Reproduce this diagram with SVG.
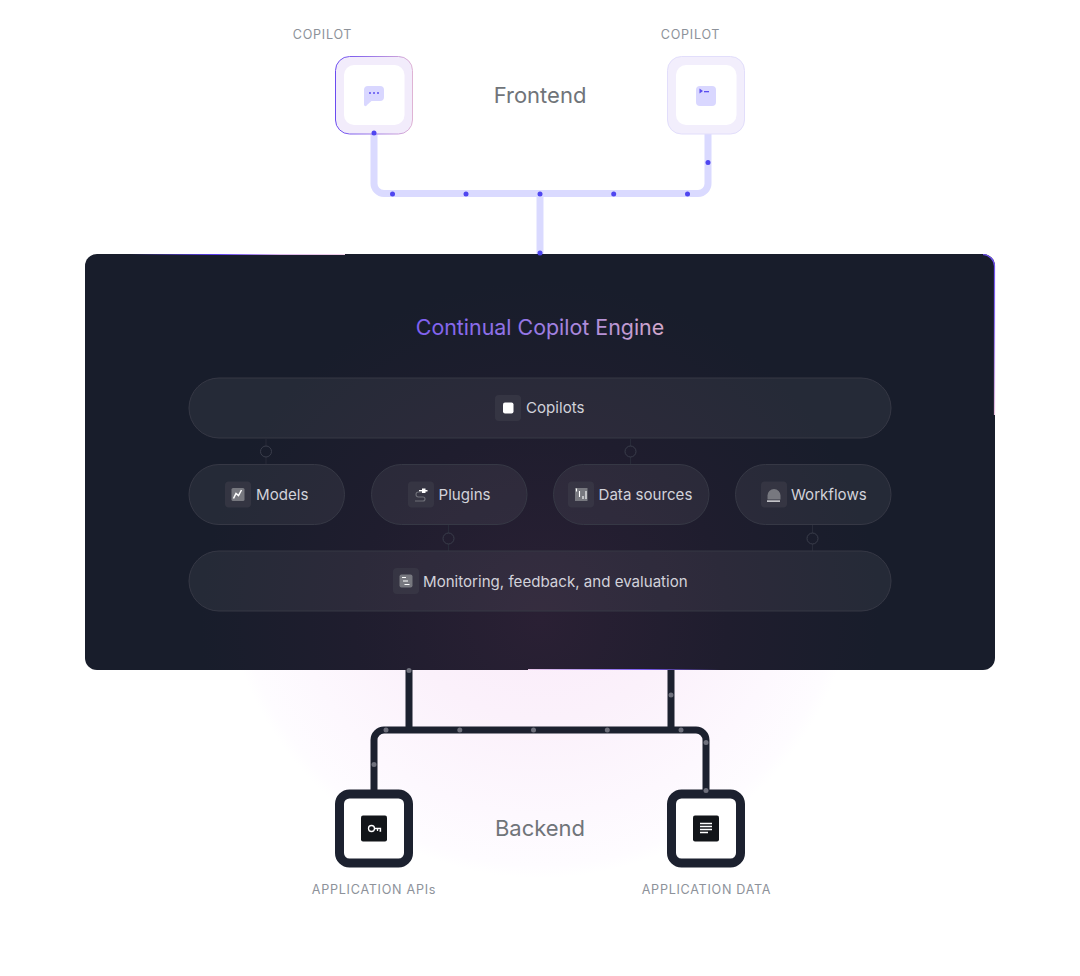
<svg xmlns="http://www.w3.org/2000/svg" width="1080" height="976" viewBox="0 0 1080 976">
<style>
text{font-family:Inter,"Liberation Sans",sans-serif}
.lab{font-size:12.6px;letter-spacing:.72px;fill:#8d929a;text-anchor:middle}
.big{font-size:22px;fill:#707479;text-anchor:middle}
.pt{font-size:15.1px;fill:#d2d2da}
.pill{fill:#fff;fill-opacity:.06;stroke:#363845;stroke-width:1}
.ib{fill:#3a3b47;fill-opacity:.7}
.ring{fill:none;stroke:#3a3d4b;stroke-width:1}
.tick{stroke:#282b39;stroke-width:1}
.top{fill:none;stroke:#dadaff;stroke-width:7}
.bot{fill:none;stroke:#1c212f;stroke-width:7}
.d1{fill:#4f46f0}
.d2{fill:#6e707c}
</style>
<defs>
<radialGradient id="glow" gradientUnits="userSpaceOnUse" cx="540" cy="560" r="318">
<stop offset="0" stop-color="#fae9f9"/><stop offset=".5" stop-color="#fbf1fb"/><stop offset=".8" stop-color="#fdf8fe"/><stop offset=".96" stop-color="#fefcff"/><stop offset="1" stop-color="#fff"/>
</radialGradient>
<radialGradient id="inner" gradientUnits="userSpaceOnUse" cx="540" cy="620" r="340">
<stop offset="0" stop-color="#2a2034"/><stop offset=".55" stop-color="#1f1d2e"/><stop offset="1" stop-color="#181d2b"/>
</radialGradient>
<linearGradient id="title" gradientUnits="userSpaceOnUse" x1="416" x2="664" y1="0" y2="0"><stop offset="0" stop-color="#7f60f2"/><stop offset=".45" stop-color="#9577e6"/><stop offset="1" stop-color="#d3a9c9"/></linearGradient>
<linearGradient id="edge" gradientUnits="userSpaceOnUse" x1="335" x2="413" y1="0" y2="0"><stop offset="0" stop-color="#6a4bf0"/><stop offset=".45" stop-color="#9a78e8"/><stop offset="1" stop-color="#e0b4d4"/></linearGradient>
<linearGradient id="hiT" gradientUnits="userSpaceOnUse" x1="130" x2="345" y1="0" y2="0"><stop offset="0" stop-color="#6a4bf0" stop-opacity="0"/><stop offset=".4" stop-color="#5b3df0"/><stop offset=".7" stop-color="#d9b4e8"/><stop offset="1" stop-color="#f0cfe8"/></linearGradient>
<linearGradient id="hiR" gradientUnits="userSpaceOnUse" x1="0" x2="0" y1="254" y2="415"><stop offset="0" stop-color="#6a4bf0"/><stop offset=".4" stop-color="#8a6cf0"/><stop offset="1" stop-color="#e8c0dc"/></linearGradient>
<linearGradient id="hiB" gradientUnits="userSpaceOnUse" x1="528" x2="720" y1="0" y2="0"><stop offset="0" stop-color="#e8c8e8"/><stop offset=".6" stop-color="#7a5cf0"/><stop offset="1" stop-color="#7a5cf0" stop-opacity="0"/></linearGradient>
</defs>

<rect id="glow-bg" x="220" y="660" width="640" height="220" fill="url(#glow)"/>

<g id="connectors">
<path class="top" d="M374 134V183a10 10 0 0 0 10 10.500H698a10 10 0 0 0 10-10.500V134"/>
<path class="top" d="M540 194V254" stroke-width="6"/>
<path class="bot" d="M374 790V740a10 10 0 0 1 10-10H696a10 10 0 0 1 10 10V790"/>
<path class="bot" d="M409 670V730M671 670V730"/>
</g>

<g id="engine">
<rect x="85" y="254" width="910" height="416" rx="12" fill="url(#inner)"/>
<path d="M130 254.500H345" stroke="url(#hiT)" stroke-width="1.200"/>
<path d="M983 254.500a12 12 0 0 1 11.500 11.500V415" fill="none" stroke="url(#hiR)" stroke-width="1.200"/>
<path d="M528 669.500H720" stroke="url(#hiB)" stroke-width="1.200"/>
<text x="540" y="335" font-size="21.400" text-anchor="middle" fill="url(#title)">Continual Copilot Engine</text>
</g>

<g id="links">
<g class="tick"><path d="M266 439V446M266 457V464M630.500 439V446M630.500 457V464M448.500 525V533M448.500 544V551M812.500 525V533M812.500 544V551"/></g>
<circle class="ring" cx="266" cy="451.500" r="5.500"/><circle class="ring" cx="630.500" cy="451.500" r="5.500"/><circle class="ring" cx="448.500" cy="538.500" r="5.500"/><circle class="ring" cx="812.500" cy="538.500" r="5.500"/>
</g>

<g id="copilots"><rect class="pill" x="189" y="378" width="702" height="60" rx="30"/><rect class="ib" x="495" y="395" width="26" height="26" rx="4"/><rect x="503" y="402.500" width="10.500" height="11" rx="2" fill="#fff"/><text class="pt" x="526" y="413">Copilots</text></g>

<g id="models"><rect class="pill" x="189" y="464.500" width="155.500" height="60" rx="30"/><rect class="ib" x="225" y="481.500" width="26" height="26" rx="4"/><rect x="231.500" y="488" width="13" height="13" rx="1.500" fill="#77787f"/><path d="M233.500 498.500l2.500-5 2.500 2 3-5.500" fill="none" stroke="#fff" stroke-width="1.500"/><text class="pt" x="256" y="500">Models</text></g>

<g id="plugins"><rect class="pill" x="371.500" y="464.500" width="155.500" height="60" rx="30"/><rect class="ib" x="408" y="481.500" width="26" height="26" rx="4"/><path d="M419 490h3v-1.500h3.500V490h2v1.500h-2V493H422v-1.500h-3z" fill="#fff"/><path d="M422 492h-3.500a2.500 2.500 0 0 0 0 5h4.500a2 2 0 0 1 0 4h-8" fill="none" stroke="#6f7079" stroke-width="1.100"/><text class="pt" x="438.500" y="500">Plugins</text></g>

<g id="data-sources"><rect class="pill" x="553.500" y="464.500" width="155.500" height="60" rx="30"/><rect class="ib" x="568" y="481.500" width="26" height="26" rx="4"/><rect x="575" y="488" width="12.500" height="13" fill="#77787f"/><path d="M576.500 488.500v3M579.500 491v6M583 496v3M586 491v8" stroke="#fff" stroke-width="1.100"/><text class="pt" x="598.500" y="500">Data sources</text></g>

<g id="workflows"><rect class="pill" x="735.500" y="464.500" width="155.500" height="60" rx="30"/><rect class="ib" x="761" y="481.500" width="26" height="26" rx="4"/><path d="M767.500 499.500v-4a6.500 6.500 0 0 1 13 0v4z" fill="#77787f"/><rect x="767" y="500.500" width="13" height="1.200" fill="#fff"/><text class="pt" x="791" y="500">Workflows</text></g>

<g id="monitoring"><rect class="pill" x="189" y="551" width="702" height="60" rx="30"/><rect class="ib" x="393" y="568" width="26" height="26" rx="4"/><rect x="399.500" y="574.500" width="13" height="13" rx="2" fill="#77787f"/><path d="M402 577.500h4M403 581h5M404.500 584.500h5" stroke="#fff" stroke-width="1.100"/><text class="pt" x="423" y="586.500">Monitoring, feedback, and evaluation</text></g>

<g id="copilot-chat">
<rect x="335.500" y="56.500" width="77" height="77.500" rx="14" fill="#f2ecfb" stroke="url(#edge)"/>
<rect x="344" y="65" width="60.500" height="60" rx="10" fill="#fff"/>
<path d="M368 86h12a4 4 0 0 1 4 4v7a4 4 0 0 1-4 4h-8.500l-4.500 4a1.500 1.500 0 0 1-3-1V90a4 4 0 0 1 4-4z" fill="#d9d7ff"/>
<g fill="#5b4ff0"><circle cx="370" cy="93" r="1"/><circle cx="374" cy="93" r="1"/><circle cx="378" cy="93" r="1"/></g>
<text class="lab" x="322.500" y="38.500">COPILOT</text>
</g>

<g id="copilot-terminal">
<rect x="667.500" y="56.500" width="77" height="77.500" rx="14" fill="#f2eefc" stroke="#e2defb"/>
<rect x="676" y="65" width="60.500" height="60" rx="10" fill="#fff"/>
<rect x="696" y="86" width="20" height="20" rx="4" fill="#d9d7ff"/>
<path d="M699.500 88.500l3.500 2.500-3.500 2.500z" fill="#5b4ff0"/><rect x="704" y="91" width="5" height="1.300" fill="#5b4ff0"/>
<text class="lab" x="690.500" y="38.500">COPILOT</text>
</g>

<text id="frontend" class="big" x="540" y="103">Frontend</text>
<text id="backend" class="big" x="540" y="836">Backend</text>

<g id="application-apis">
<rect x="339.500" y="794" width="69" height="69" rx="10" fill="#fff" stroke="#1c212f" stroke-width="9"/>
<rect x="361" y="815.500" width="26" height="26" rx="2" fill="#121519"/>
<circle cx="371.500" cy="828.500" r="3" fill="none" stroke="#fff" stroke-width="1.300"/><path d="M374.500 828.500h6v2.500h-1M377.500 828.500v2.500" fill="none" stroke="#fff" stroke-width="1.300"/>
<text class="lab" x="374" y="893.500">APPLICATION APIs</text>
</g>

<g id="application-data">
<rect x="671.500" y="794" width="69" height="69" rx="10" fill="#fff" stroke="#1c212f" stroke-width="9"/>
<rect x="693" y="815.500" width="26" height="26" rx="2" fill="#121519"/>
<path d="M700 823.500h12M700 826.500h12M700 829.500h12M700 832.500h8" stroke="#fff" stroke-width="1.300"/>
<text class="lab" x="706.500" y="893.500">APPLICATION DATA</text>
</g>

<g id="connector-dots">
<g class="d1">
<circle cx="374" cy="133" r="2.500"/><circle cx="392.500" cy="194" r="2.500"/><circle cx="466" cy="194" r="2.500"/><circle cx="540" cy="194" r="2.500"/><circle cx="613.700" cy="194" r="2.500"/><circle cx="687.500" cy="194" r="2.500"/><circle cx="708" cy="162.500" r="2.500"/><circle cx="540" cy="253" r="2.500"/>
</g>
<g class="d2">
<circle cx="386" cy="730" r="2.500"/><circle cx="459.800" cy="730" r="2.500"/><circle cx="533.500" cy="730" r="2.500"/><circle cx="607.300" cy="730" r="2.500"/><circle cx="681" cy="730" r="2.500"/><circle cx="671" cy="695" r="2.500"/><circle cx="706" cy="742.500" r="2.500"/><circle cx="706" cy="790.500" r="2.500"/><circle cx="374" cy="764.500" r="2.500"/><circle cx="409" cy="670.500" r="2.500"/>
</g>
</g>
</svg>
